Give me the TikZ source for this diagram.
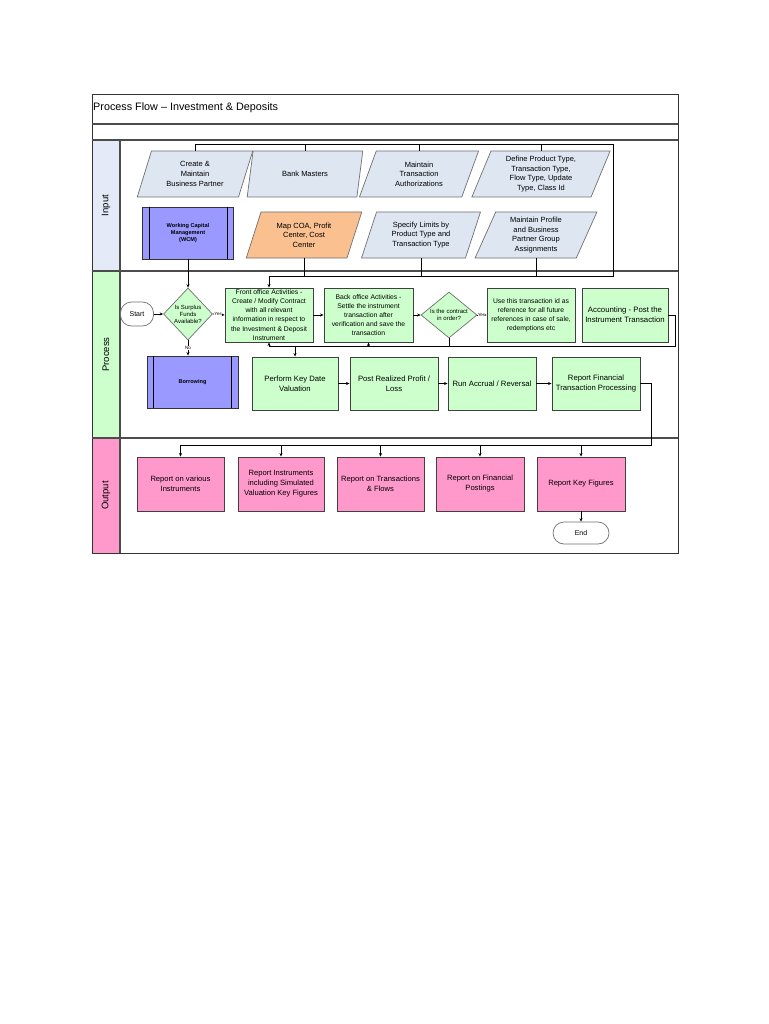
\documentclass[tikz,border=0pt]{standalone}
\usepackage{fontspec}
\setmainfont{Liberation Sans}
\usetikzlibrary{shapes.geometric,arrows.meta}
\definecolor{inblue}{HTML}{DEE6F2}
\definecolor{laneblue}{HTML}{E4EBF7}
\definecolor{coaorange}{HTML}{FAC090}
\definecolor{subblue}{HTML}{9999FF}
\definecolor{procgreen}{HTML}{CCFFCC}
\definecolor{outpink}{HTML}{FF99CC}
\definecolor{edgegray}{HTML}{707070}
\begin{document}
\begin{tikzpicture}[x=1pt,y=-1pt,
  every node/.style={align=center, inner sep=1pt},
  infont/.style={font=\fontsize{7.5}{9.6}\selectfont},
  inpara/.style={infont, trapezium, trapezium left angle=70, trapezium right angle=110, trapezium stretches=true, draw=edgegray, fill=inblue, line width=0.7pt, minimum height=46pt},
  subproc/.style={rectangle, draw=black!80, fill=subblue, line width=0.9pt, font=\fontsize{5.6}{7.4}\selectfont\bfseries},
  procbox/.style={rectangle, draw=black!75, fill=procgreen, line width=0.9pt, minimum height=54pt, font=\fontsize{6.8}{9.1}\selectfont},
  decision/.style={diamond, draw=edgegray, fill=procgreen, line width=0.7pt, inner sep=0pt, font=\fontsize{6}{7}\selectfont},
  outbox/.style={rectangle, draw=black!75, fill=outpink, line width=0.9pt, minimum height=54pt, font=\fontsize{7.6}{10}\selectfont},
  termbox/.style={rectangle, rounded corners=11pt, draw=edgegray, fill=white, line width=0.7pt, font=\fontsize{7}{8}\selectfont},
  lanetext/.style={rotate=90, font=\fontsize{9.5}{11}\selectfont},
  lanerule/.style={line width=1.3pt, draw=black!70},
  flow/.style={line width=0.8pt, -{Stealth[length=3.5pt,width=3pt]}},
  bus/.style={line width=0.8pt},
  tag/.style={font=\fontsize{4.5}{5}\selectfont, inner sep=0.3pt, fill=white}
]
\fill[white] (0,0) rectangle (768,1024);
% swimlane frame
\fill[laneblue] (92,140) rectangle (120,271);
\fill[procgreen] (92,271) rectangle (120,438);
\fill[outpink] (92,438) rectangle (120,553);
\draw[line width=1pt, draw=black!80] (92,95) rectangle (678,553);
\draw[lanerule] (92,124) -- (678,124);
\draw[lanerule] (92,140) -- (678,140);
\draw[lanerule] (92,271) -- (678,271);
\draw[lanerule] (92,438) -- (678,438);
\draw[lanerule] (120,140) -- (120,553);
\node[anchor=west, inner sep=0pt, font=\fontsize{10.8}{13}\selectfont] (title) at (93,108) {Process Flow \textendash{} Investment \& Deposits};
\node[lanetext] (laneinput) at (106,205.5) {Input};
\node[lanetext] (laneprocess) at (106,354.5) {Process};
\node[lanetext] (laneoutput) at (106,495.5) {Output};
% input
\node[inpara, minimum width=116pt] (bp) at (195,174) {Create \&\\Maintain\\Business Partner};
\node[inpara, minimum width=116pt] (bank) at (305,174) {Bank Masters};
\node[inpara, minimum width=120pt] (auth) at (419,174) {Maintain\\Transaction\\Authorizations};
\node[inpara, minimum width=139pt] (ptype) at (541,174) {Define Product Type,\\Transaction Type,\\Flow Type, Update\\Type, Class Id};
\node[subproc, minimum width=91pt, minimum height=52pt] (wcm) at (188,233) {Working Capital\\Management\\(WCM)};
\node[inpara, fill=coaorange, minimum width=116pt] (coa) at (304,235) {Map COA, Profit\\Center, Cost\\Center};
\node[inpara, minimum width=120pt] (limit) at (421,235) {Specify Limits by\\Product Type and\\Transaction Type};
\node[inpara, minimum width=122pt] (prof) at (536,235) {Maintain Profile\\and Business\\Partner Group\\Assignments};
% process
\node[termbox, minimum width=33pt, minimum height=24pt] (start) at (137,314) {Start};
\node[decision, minimum width=49pt, minimum height=52pt] (surplus) at (188,314) {Is Surplus\\Funds\\Available?};
\node[procbox, minimum width=88pt] (front) at (269,315) {Front office Activities -\\Create / Modify Contract\\with all relevant\\information in respect to\\the Investment \& Deposit\\Instrument};
\node[procbox, minimum width=89pt] (back) at (368.5,315) {Back office Activities -\\Settle the instrument\\transaction after\\verification and save the\\transaction};
\node[decision, aspect=1.3, minimum width=56pt, minimum height=46pt] (order) at (449,315) {Is the contract\\in order?};
\node[procbox, minimum width=88pt] (useid) at (531,315) {Use this transaction id as\\reference for all future\\references in case of sale,\\redemptions etc};
\node[procbox, minimum width=86pt, font=\fontsize{7.8}{9.6}\selectfont] (acct) at (625,315) {Accounting - Post the\\Instrument Transaction};
\node[subproc, minimum width=91pt, minimum height=52pt] (borrow) at (192.5,382) {Borrowing};
\node[procbox, minimum width=86pt, minimum height=53pt, font=\fontsize{7.7}{10}\selectfont] (keydate) at (295,383.5) {Perform Key Date\\Valuation};
\node[procbox, minimum width=88pt, minimum height=53pt, font=\fontsize{7.7}{10}\selectfont] (realize) at (394,383.5) {Post Realized Profit /\\Loss};
\node[procbox, minimum width=88pt, minimum height=53pt, font=\fontsize{7.7}{10}\selectfont] (accrual) at (492,383.5) {Run Accrual / Reversal};
\node[procbox, minimum width=88pt, minimum height=53pt, font=\fontsize{7.7}{10}\selectfont] (report) at (596,383.5) {Report Financial\\Transaction Processing};
% output
\node[outbox, minimum width=87pt] (rvar) at (180.5,484) {Report on various\\Instruments};
\node[outbox, minimum width=86pt] (rsim) at (281,484) {Report Instruments\\including Simulated\\Valuation Key Figures};
\node[outbox, minimum width=87pt] (rtrans) at (380.5,484) {Report on Transactions\\\& Flows};
\node[outbox, minimum width=88pt] (rpost) at (480,484) {Report on Financial\\Postings};
\node[outbox, minimum width=88pt] (rkey) at (581,484) {Report Key Figures};
\node[termbox, minimum width=56pt, minimum height=22pt] (finish) at (581,533) {End};
% subroutine bars
\foreach \n in {wcm,borrow} {
  \draw[line width=0.9pt] ([xshift=7pt]\n.north west) -- ([xshift=7pt]\n.south west);
  \draw[line width=0.9pt] ([xshift=-7pt]\n.north east) -- ([xshift=-7pt]\n.south east);
}
% input bus
\coordinate (inbusne) at (613,144);
\coordinate (inbusse) at (613,276);
\draw[bus] (bp.north) -- (bp.north |- inbusne) -- (inbusne) -- (inbusse) -- (front.north |- inbusse);
\draw[flow] (front.north |- inbusse) -- (front.north);
\foreach \n in {bank,auth,ptype} \draw[bus] (\n.north) -- (\n.north |- inbusne);
\foreach \n in {coa,limit,prof} \draw[bus] (\n.south) -- (\n.south |- inbusse);
\draw[flow] (wcm.south) -- (surplus.north);
% process flow
\draw[flow] (start) -- (surplus);
\draw[flow] (surplus.east) -- (front.west) node[tag, pos=0.45] {Yes};
\draw[flow] (surplus.south) -- (surplus.south |- borrow.north) node[tag, midway] {No};
\draw[flow] (front) -- (back);
\draw[flow] (back) -- (order);
\draw[flow] (order.east) -- (useid.west) node[tag, pos=0.45] {Yes};
\coordinate (loopse) at (675,346);
\draw[flow] (acct.east) -| (loopse) -- (keydate.north |- loopse) -- (keydate.north);
\draw[flow] (order.south) |- (front.south |- loopse) -- (front.south);
\draw[flow] (back.south |- loopse) -- (back.south);
\draw[flow] (keydate) -- (realize);
\draw[flow] (realize) -- (accrual);
\draw[flow] (accrual) -- (report);
% output bus
\coordinate (outbus) at (651,445);
\draw[bus] (report.east) -| (outbus) -- (rvar.north |- outbus);
\foreach \n in {rvar,rsim,rtrans,rpost,rkey} \draw[flow] (\n.north |- outbus) -- (\n.north);
\draw[flow] (rkey) -- (finish);
\end{tikzpicture}
\end{document}
